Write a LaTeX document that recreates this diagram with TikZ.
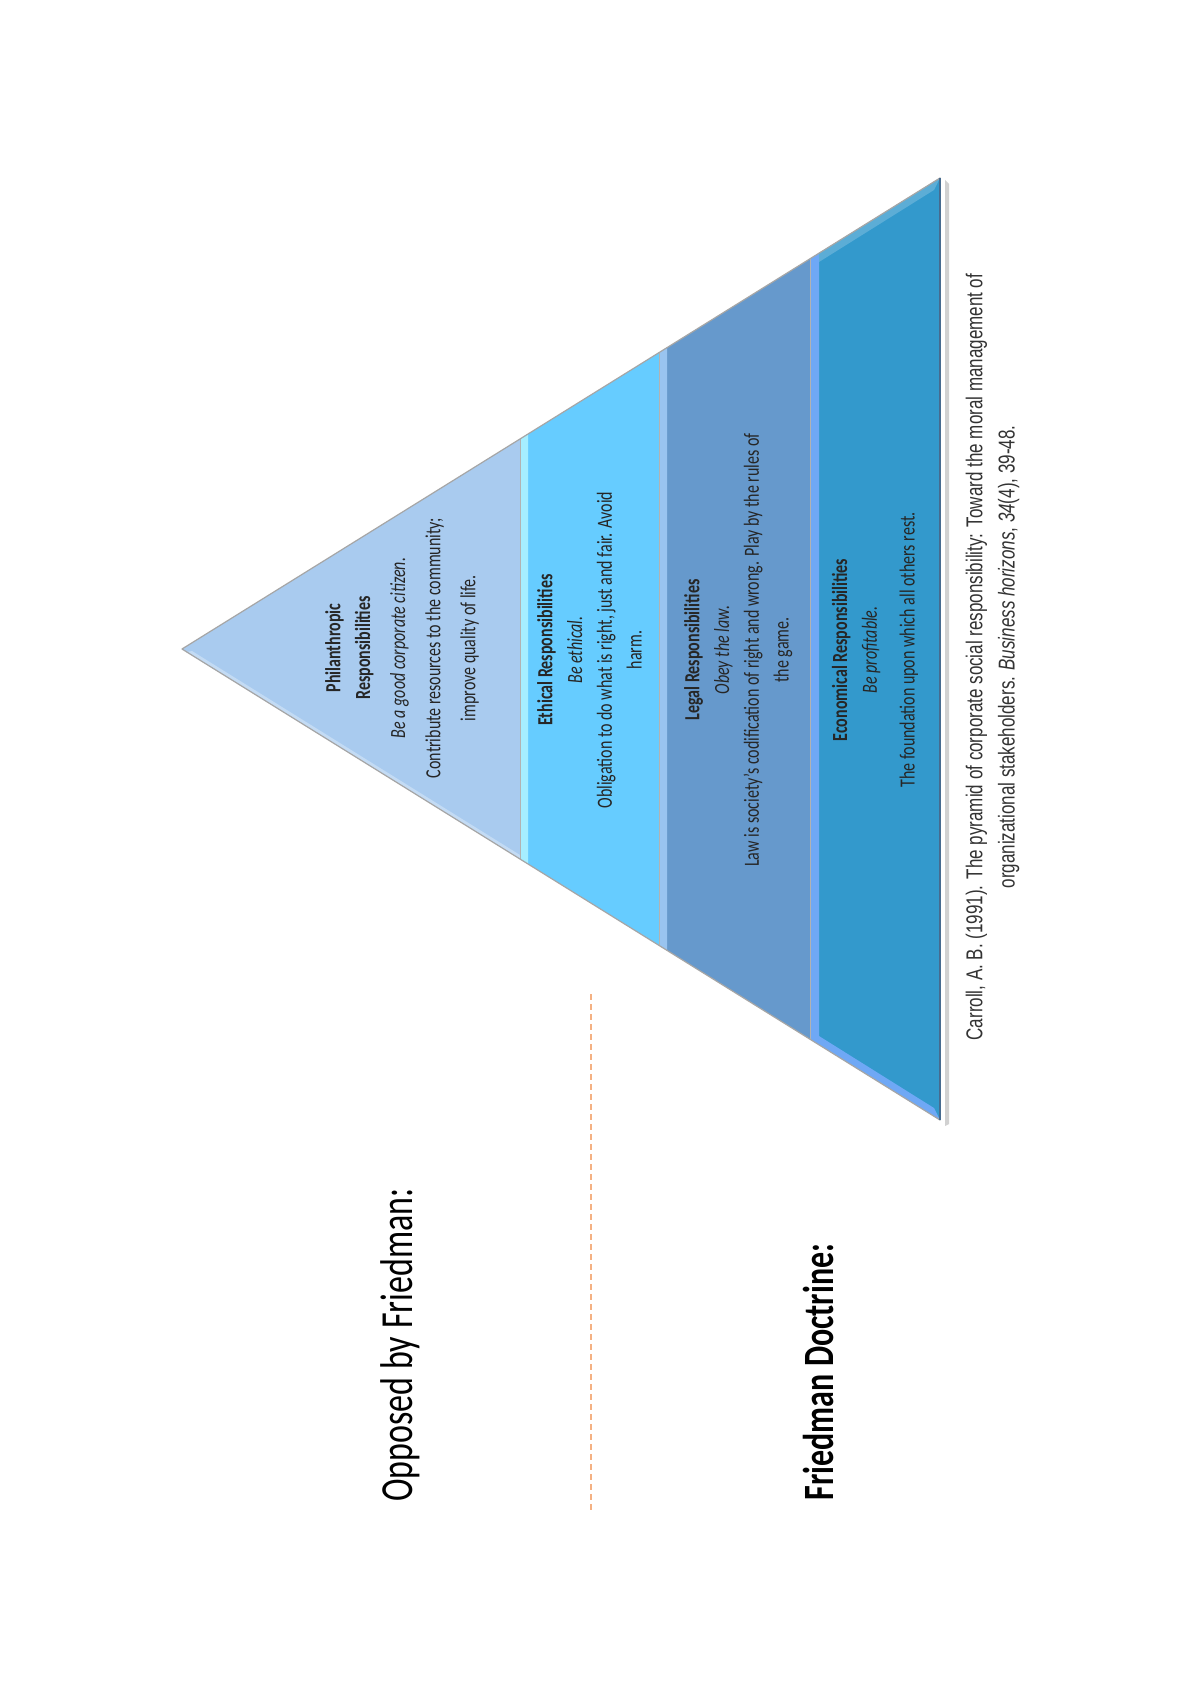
\documentclass[tikz,border=0pt]{standalone}
\usepackage{fontspec}
\setmainfont{Carlito}
\newfontfamily\citefont{Liberation Sans}
\usepackage{graphicx}
\definecolor{phil}{HTML}{A9CBEF}
\definecolor{eth}{HTML}{66CCFF}
\definecolor{ethl}{HTML}{A6EEFF}
\definecolor{leg}{HTML}{6699CC}
\definecolor{legl}{HTML}{99C4F0}
\definecolor{eco}{HTML}{3399CC}
\definecolor{ecol}{HTML}{6FA8F5}
\definecolor{dashc}{HTML}{F4B183}
\tikzset{
  bandtext/.style={rotate=90,inner sep=0pt,font=\fontsize{8}{11}\selectfont,text=black!85},
  heading/.style={rotate=90,inner sep=0pt,text=black},
  edge/.style={draw=black!35,line width=0.6pt,line join=round}
}
\newcommand{\st}[1]{\scalebox{1}[1.35]{#1}}
\begin{document}
\begin{tikzpicture}[x=0.5pt,y=-0.5pt]
\useasboundingbox (0,0) rectangle (1200,1696);
\fill[white] (0,0) rectangle (1200,1696);
% shadow
\fill[black!18] (945,180) -- (949,184) -- (949,1124) -- (945,1126) -- cycle;
% bands
\fill[phil] (182,649) -- (520,439) -- (520,859) -- cycle;
\fill[eth] (520,439) -- (659,352.6) -- (659,945.4) -- (520,859) -- cycle;
\fill[leg] (659,352.6) -- (810,258.8) -- (810,1039.2) -- (659,945.4) -- cycle;
\fill[eco] (810,258.8) -- (940,178) -- (940,1120) -- (810,1039.2) -- cycle;
% bevel strips
\fill[ethl] (520,439) -- (528,434) -- (528,864) -- (520,859) -- cycle;
\fill[legl] (659,352.6) -- (667,347.6) -- (667,950.4) -- (659,945.4) -- cycle;
\fill[ecol] (810,258.8) -- (819,253) -- (819,1045) -- (810,1039.2) -- cycle;
\fill[ecol] (810,1039.2) -- (940,1120) -- (934,1108) -- (819,1036) -- cycle;
\fill[eco!80!white] (819,262) -- (934,190) -- (940,178) -- (819,253) -- cycle;
\fill[phil!70!white] (186,652) -- (520,859) -- (520,855) -- (192,651) -- cycle;
% dividing edges
\draw[black!30,line width=0.5pt] (520,439) -- (520,859) (659,352.6) -- (659,945.4) (810,258.8) -- (810,1039.2);
\draw[edge] (182,649) -- (940,178) -- (940,1120) -- cycle;
\draw[leg!70!black,line width=0.8pt] (940,178) -- (940,1120);
% texts
\node[bandtext] (philt) at (402,648) {\st{\begin{tabular}{c}\textbf{Philanthropic}\\ \textbf{Responsibilities}\\[2pt] \textit{Be a good corporate citizen.}\\[2pt] Contribute resources to the community;\\[2pt] improve quality of life.\end{tabular}}};
\node[bandtext] (etht) at (591,650) {\st{\begin{tabular}{c}\textbf{Ethical Responsibilities}\\ \textit{Be ethical.}\\ Obligation to do what is right, just and fair. Avoid\\ harm.\end{tabular}}};
\node[bandtext] (legt) at (738,650) {\st{\begin{tabular}{c}\textbf{Legal Responsibilities}\\ \textit{Obey the law.}\\ Law is society's codification of right and wrong. Play by the rules of\\ the game.\end{tabular}}};
\node[bandtext] (ecot) at (875,650) {\st{\begin{tabular}{c}\textbf{Economical Responsibilities}\\ \textit{Be profitable.}\\[3pt] The foundation upon which all others rest.\end{tabular}}};
% headings
\node[heading,font=\fontsize{17}{20}\selectfont] (opp) at (400,1345) {\st{Opposed by Friedman:}};
\node[heading,font=\fontsize{16}{20}\selectfont\bfseries] (fd) at (818,1372) {\st{Friedman Doctrine:}};
% dashed divider
\coordinate (da) at (591,994);
\coordinate (db) at (591,1512);
\draw[dashc,dashed,line width=0.6pt,dash pattern=on 3pt off 2pt] (da) -- (db);
% citation
\node[rotate=90,inner sep=0pt,font=\citefont\fontsize{8.5}{12}\selectfont,text=black!80] (cite) at (992,657) {\st{\begin{tabular}{c}Carroll, A. B. (1991). The pyramid of corporate social responsibility: Toward the moral management of\\ organizational stakeholders. \textit{Business horizons}, \textit{34}(4), 39-48.\end{tabular}}};
\end{tikzpicture}
\end{document}
